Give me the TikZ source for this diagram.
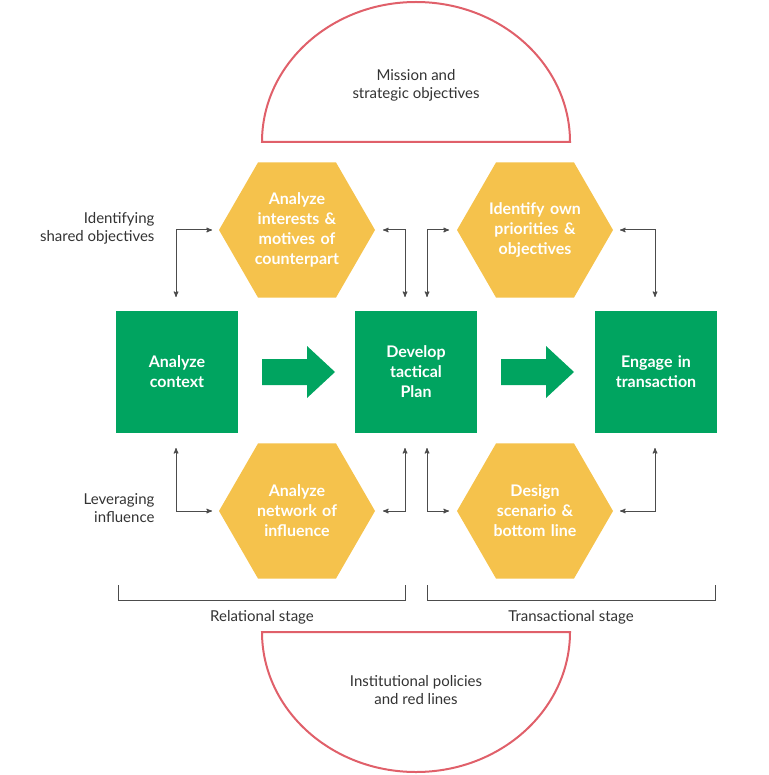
\documentclass[tikz,border=0pt]{standalone}
\usepackage{fontspec}
\setmainfont{Lato}
\usetikzlibrary{shapes.geometric, arrows}
\definecolor{stagegreen}{HTML}{00A460}
\definecolor{hexyellow}{HTML}{F5C24C}
\definecolor{boundred}{HTML}{E0606A}
\tikzstyle{stage} = [rectangle, minimum width=122pt, minimum height=122pt, text centered, text width=85pt, fill=stagegreen, text=white, font=\fontsize{16}{20}\selectfont\bfseries]
\tikzstyle{hexstep} = [regular polygon, regular polygon sides=6, minimum size=156pt, inner sep=0pt, text centered, text width=95pt, fill=hexyellow, text=white, font=\fontsize{16}{20}\selectfont\bfseries]
\tikzstyle{flow} = [fill=stagegreen]
\tikzstyle{link} = [draw=black!70, line width=1pt, <->, >=stealth']
\tikzstyle{note} = [font=\fontsize{15}{18}\selectfont, text=black!80, align=center]
\begin{document}
\begin{tikzpicture}[x=1pt, y=-1pt]
    \useasboundingbox (0,0) rectangle (768,775);
    \draw [boundred, line width=2pt] (262,142) arc [start angle=180, end angle=360, x radius=154, y radius=140] -- cycle;
    \draw [boundred, line width=2pt] (262,632) arc [start angle=180, end angle=0, x radius=154, y radius=140] -- cycle;
    \node [note] at (416,85) (mission) {Mission and\\strategic objectives};
    \node [note] at (416,690) (policies) {Institutional policies\\and red lines};
    \node [stage] at (177,372) (context) {Analyze context};
    \node [stage] at (416,372) (plan) {Develop tactical Plan};
    \node [stage] at (656,372) (engage) {Engage in transaction};
    \fill [flow] (262,359) -- (307,359) -- (307,346) -- (335,372) -- (307,398) -- (307,385) -- (262,385) -- cycle;
    \fill [flow] (501,359) -- (546,359) -- (546,346) -- (574,372) -- (546,398) -- (546,385) -- (501,385) -- cycle;
    \node [hexstep] at (297,230) (interests) {Analyze interests \& motives of counterpart};
    \node [hexstep] at (535,230) (priorities) {Identify own priorities \& objectives};
    \node [hexstep] at (297,511) (network) {Analyze network of influence};
    \node [hexstep] at (535,511) (scenario) {Design scenario \& bottom line};
    \coordinate (c1) at (176,297); \coordinate (i1) at (212,230);
    \coordinate (i2) at (383,230); \coordinate (p1) at (405,297);
    \coordinate (p2) at (427,297); \coordinate (o1) at (449,230);
    \coordinate (o2) at (620,230); \coordinate (e1) at (655,297);
    \coordinate (c2) at (176,448); \coordinate (n1) at (212,511);
    \coordinate (n2) at (383,511); \coordinate (p3) at (405,448);
    \coordinate (p4) at (427,448); \coordinate (s1) at (449,511);
    \coordinate (s2) at (620,511); \coordinate (e2) at (655,448);
    \draw [link] (c1) |- (i1);
    \draw [link] (i2) -| (p1);
    \draw [link] (p2) |- (o1);
    \draw [link] (o2) -| (e1);
    \draw [link] (c2) |- (n1);
    \draw [link] (n2) -| (p3);
    \draw [link] (p4) |- (s1);
    \draw [link] (s2) -| (e2);
    \node [note, align=right, anchor=east] at (158,228) (shared) {Identifying\\shared objectives};
    \node [note, align=right, anchor=east] at (158,508) (leverage) {Leveraging\\influence};
    \draw [black!70, line width=1pt] (118,585) -- (118,600) -- (405,600) -- (405,585);
    \draw [black!70, line width=1pt] (427,585) -- (427,600) -- (715,600) -- (715,585);
    \node [note] at (262,617) (relational) {Relational stage};
    \node [note] at (571,617) (transactional) {Transactional stage};
\end{tikzpicture}
\end{document}
